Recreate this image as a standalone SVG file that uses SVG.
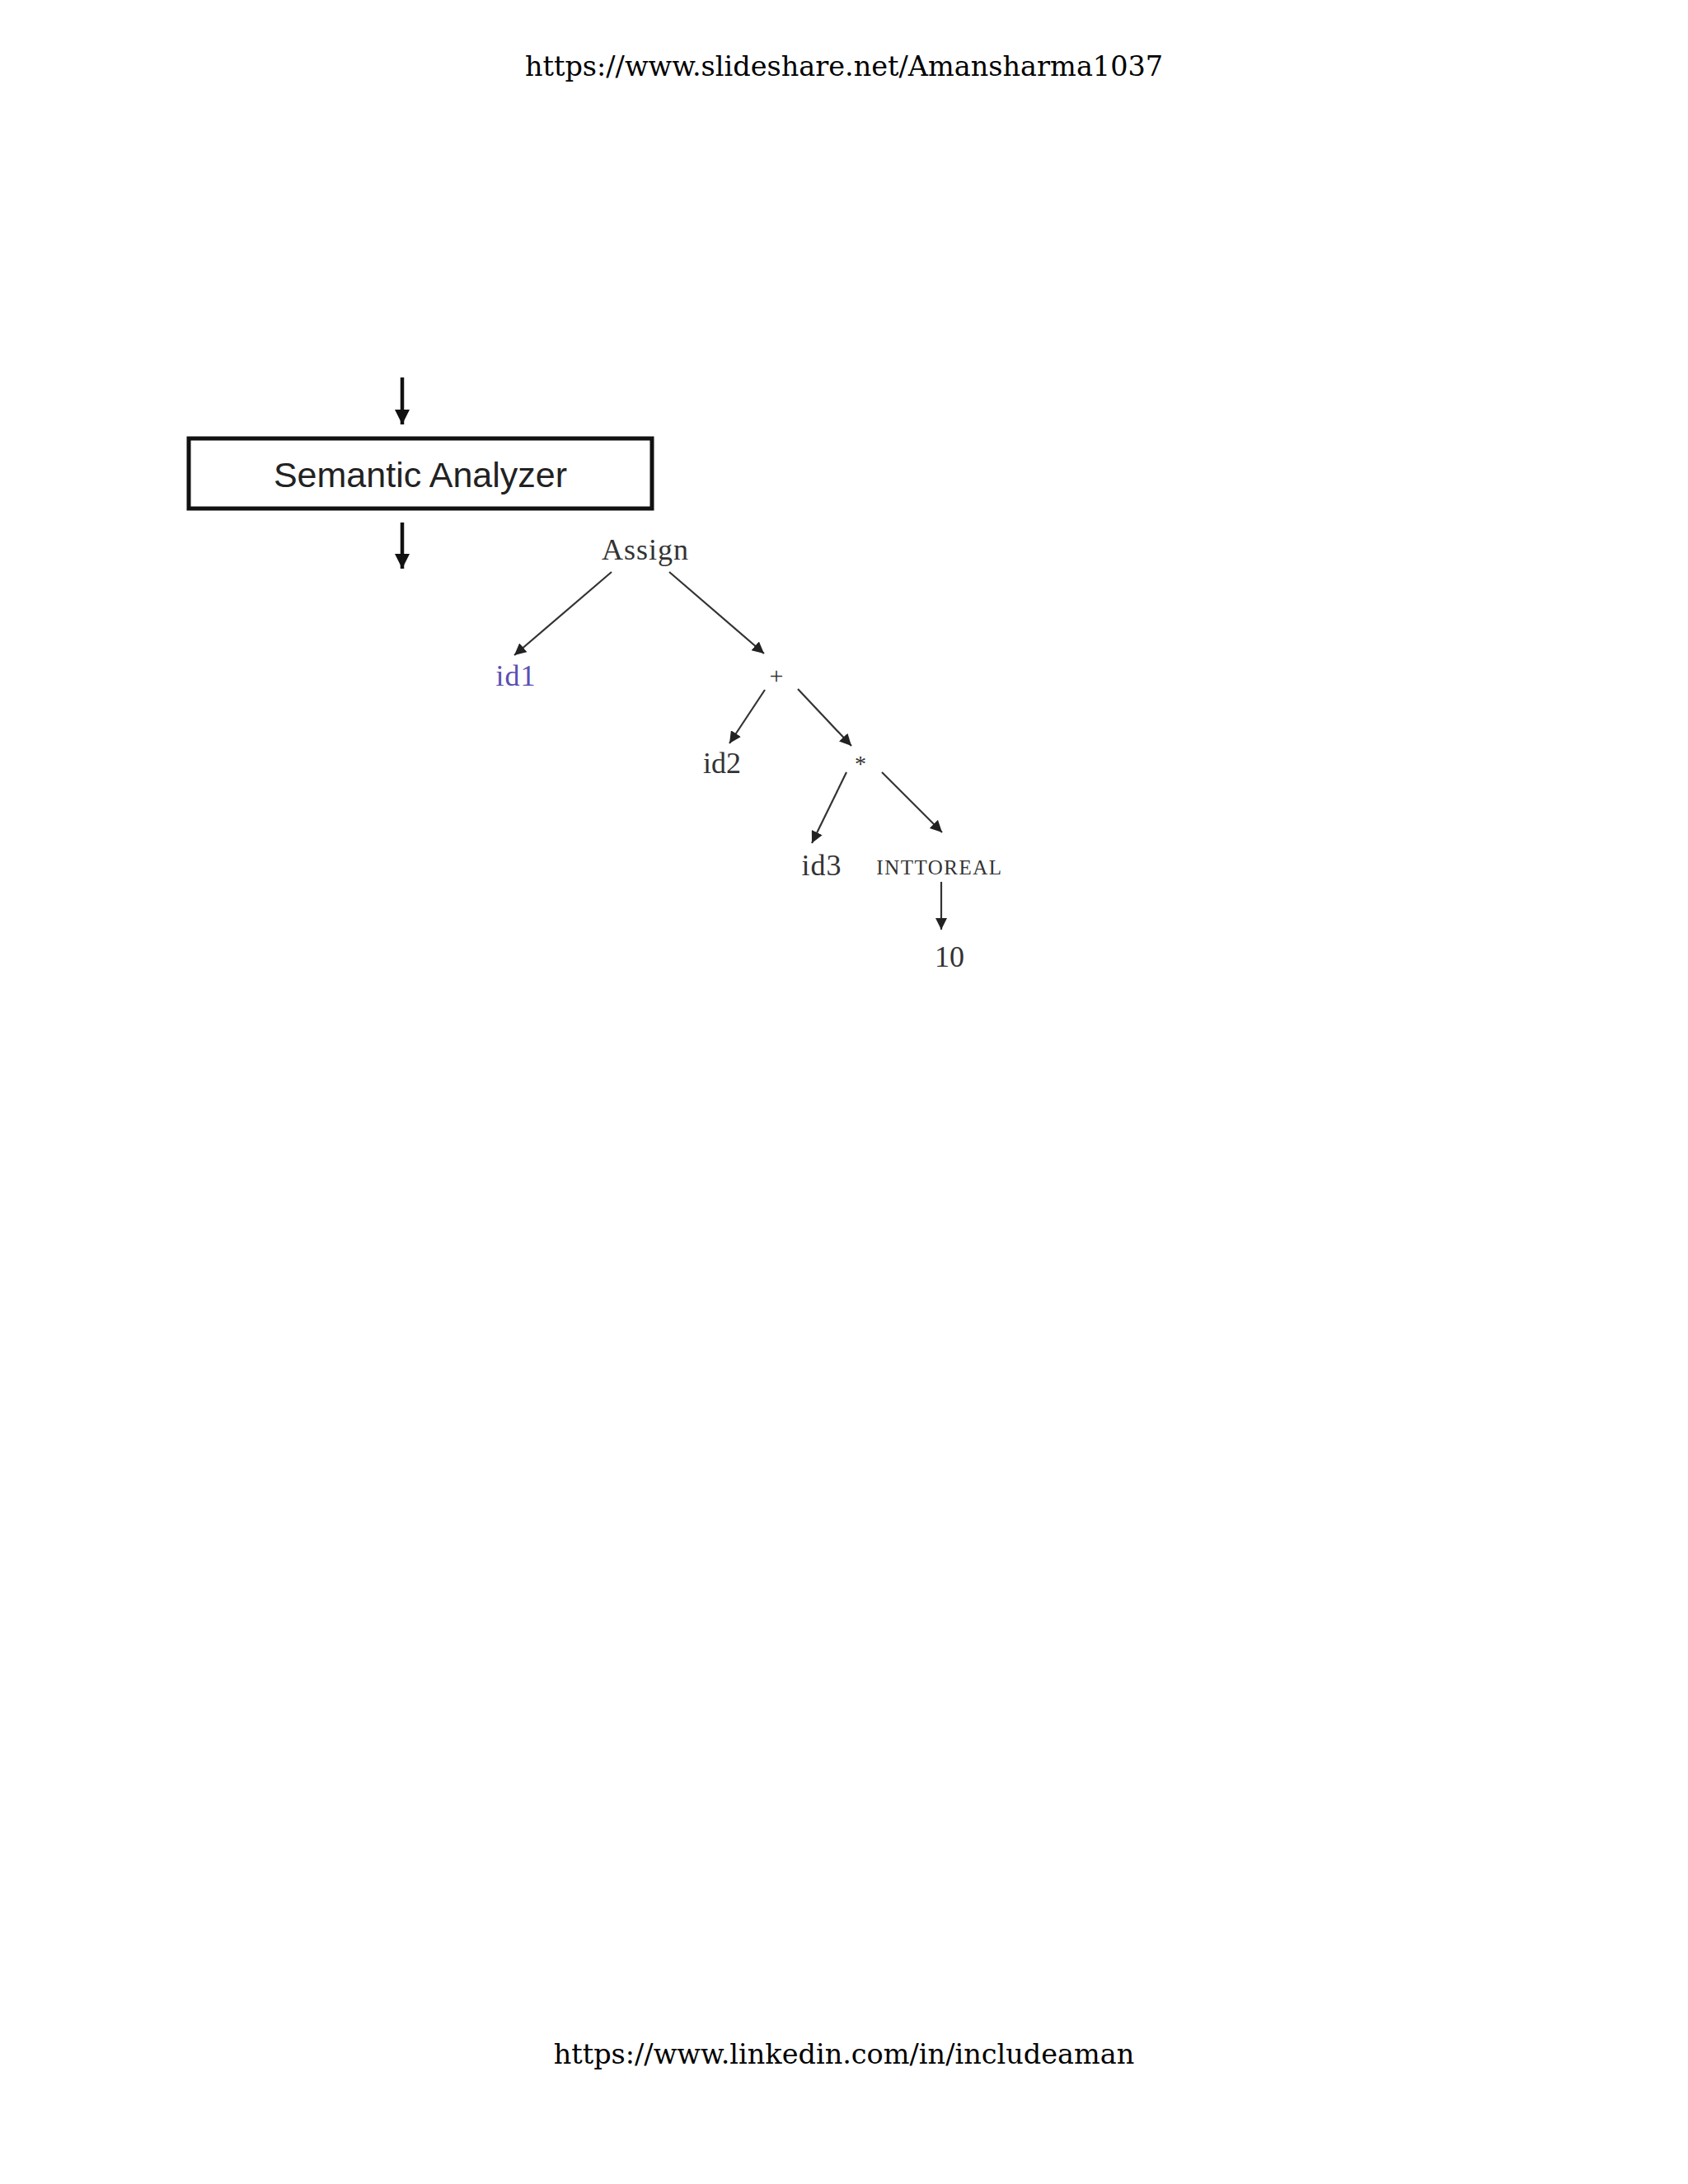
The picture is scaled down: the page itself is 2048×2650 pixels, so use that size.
<svg xmlns="http://www.w3.org/2000/svg" width="2048" height="2650" viewBox="0 0 2048 2650">
<style>
.url{font-family:"DejaVu Serif",serif;font-size:33.5px;fill:#000;text-anchor:middle}
.box{fill:#fff;stroke:#111;stroke-width:5}
.boxt{font-family:"Liberation Sans",Arial,sans-serif;font-size:43px;fill:#222;text-anchor:middle}
.tn{font-family:"Liberation Serif","Times New Roman",serif;font-size:36px;fill:#333;text-anchor:middle}
.thick{stroke:#111;stroke-width:4.5;fill:none}
.thin{stroke:#333;stroke-width:2.2;fill:none}
</style>
<defs>
<marker id="ah" viewBox="0 0 10 10" refX="10" refY="5" markerWidth="4" markerHeight="4" markerUnits="strokeWidth" orient="auto"><path d="M0,0 L10,5 L0,10 z" fill="#111"/></marker>
<marker id="as" viewBox="0 0 10 10" refX="10" refY="5" markerWidth="6.5" markerHeight="6.5" markerUnits="strokeWidth" orient="auto"><path d="M0,0 L10,5 L0,10 z" fill="#222"/></marker>
</defs>
<rect width="2048" height="2650" fill="#fff"/>
<text class="url" x="1024" y="92">https://www.slideshare.net/Amansharma1037</text>
<text class="url" x="1024" y="2504">https://www.linkedin.com/in/includeaman</text>
<g id="semantic-analyzer">
<rect class="box" x="229" y="532" width="562" height="85"/>
<text class="boxt" x="510" y="591">Semantic Analyzer</text>
</g>
<g id="assign"><text class="tn" x="783" y="679" style="letter-spacing:1px">Assign</text></g>
<g id="id1"><text class="tn" x="626" y="832" style="fill:#5a4fb2;letter-spacing:1px">id1</text></g>
<g id="plus"><text class="tn" x="942" y="830" style="font-size:30px">+</text></g>
<g id="id2"><text class="tn" x="876" y="938">id2</text></g>
<g id="times"><text class="tn" x="1044" y="936" style="font-size:28px">*</text></g>
<g id="id3"><text class="tn" x="997" y="1062" style="letter-spacing:1px">id3</text></g>
<g id="inttoreal"><text class="tn" x="1140" y="1061" style="font-size:25px;letter-spacing:1.5px">INTTOREAL</text></g>
<g id="ten"><text class="tn" x="1152" y="1173">10</text></g>
<g id="connectors">
<line class="thick" x1="488" y1="458" x2="488" y2="515" marker-end="url(#ah)"/>
<line class="thick" x1="488" y1="634" x2="488" y2="690" marker-end="url(#ah)"/>
<line class="thin" x1="742" y1="694" x2="624" y2="795" marker-end="url(#as)"/>
<line class="thin" x1="812" y1="694" x2="927" y2="793" marker-end="url(#as)"/>
<line class="thin" x1="928" y1="837" x2="885" y2="902" marker-end="url(#as)"/>
<line class="thin" x1="968" y1="836" x2="1033" y2="905" marker-end="url(#as)"/>
<line class="thin" x1="1027" y1="937" x2="985" y2="1023" marker-end="url(#as)"/>
<line class="thin" x1="1070" y1="937" x2="1143" y2="1010" marker-end="url(#as)"/>
<line class="thin" x1="1142" y1="1070" x2="1142" y2="1128" marker-end="url(#as)"/>
</g>
</svg>
